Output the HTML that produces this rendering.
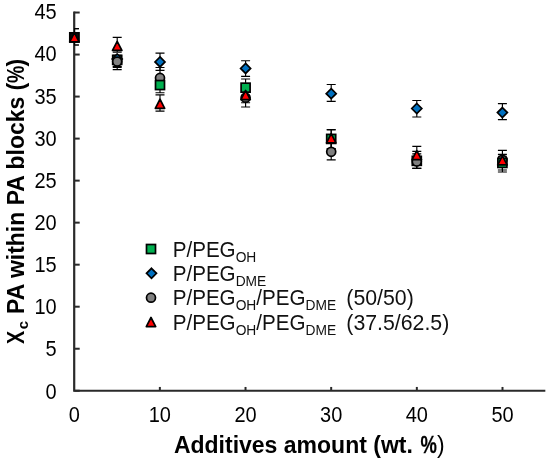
<!DOCTYPE html>
<html><head><meta charset="utf-8"><style>
html,body{margin:0;padding:0;background:#fff;width:550px;height:463px;overflow:hidden}
svg{display:block;filter:blur(0.5px)}
text{font-family:"Liberation Sans",Arial,sans-serif;fill:#000000}
.tk{font-size:20.6px}
.ttl{font-size:23px;font-weight:bold}
.pn{font-weight:normal}
.pc{stroke:#000;stroke-width:0.25px}
.sb{font-size:15px}
.lg{font-size:20.6px;fill:#111}
.lp{font-size:21.3px}
.ls{font-size:13.8px}
</style></head><body>
<svg width="550" height="463" viewBox="0 0 550 463">
<defs><clipPath id="pc"><rect x="74.20" y="0" width="480" height="390.75"/></clipPath></defs>
<path d="M74.20 11.53V391.85M73.10 390.75H545.33" stroke="#2a2a2a" stroke-width="2.2" fill="none"/><path d="M74.20 390.75H79.70" stroke="#2a2a2a" stroke-width="2" /><path d="M74.20 348.73H79.70" stroke="#2a2a2a" stroke-width="2" /><path d="M74.20 306.70H79.70" stroke="#2a2a2a" stroke-width="2" /><path d="M74.20 264.68H79.70" stroke="#2a2a2a" stroke-width="2" /><path d="M74.20 222.65H79.70" stroke="#2a2a2a" stroke-width="2" /><path d="M74.20 180.63H79.70" stroke="#2a2a2a" stroke-width="2" /><path d="M74.20 138.60H79.70" stroke="#2a2a2a" stroke-width="2" /><path d="M74.20 96.58H79.70" stroke="#2a2a2a" stroke-width="2" /><path d="M74.20 54.55H79.70" stroke="#2a2a2a" stroke-width="2" /><path d="M74.20 12.53H79.70" stroke="#2a2a2a" stroke-width="2" /><path d="M159.86 390.75V386.95" stroke="#2a2a2a" stroke-width="2" /><path d="M245.52 390.75V386.95" stroke="#2a2a2a" stroke-width="2" /><path d="M331.18 390.75V386.95" stroke="#2a2a2a" stroke-width="2" /><path d="M416.84 390.75V386.95" stroke="#2a2a2a" stroke-width="2" /><path d="M502.50 390.75V386.95" stroke="#2a2a2a" stroke-width="2" />
<g clip-path="url(#pc)"><path d="M74.40 28.61V44.99M69.90 28.61H78.90M69.90 44.99H78.90" stroke="#000" stroke-width="1.15" fill="none"/><path d="M74.40 28.61V44.99M69.90 28.61H78.90M69.90 44.99H78.90" stroke="#000" stroke-width="1.15" fill="none"/><path d="M117.20 55.66V67.42M112.70 55.66H121.70M112.70 67.42H121.70" stroke="#000" stroke-width="1.15" fill="none"/><path d="M117.20 55.24V66.41M112.70 55.24H121.70M112.70 66.41H121.70" stroke="#000" stroke-width="1.15" fill="none"/><path d="M117.20 55.66V69.60M112.70 55.66H121.70M112.70 69.60H121.70" stroke="#000" stroke-width="1.15" fill="none"/><path d="M117.20 37.43V52.13M112.70 37.43H121.70M112.70 52.13H121.70" stroke="#000" stroke-width="1.15" fill="none"/><path d="M160.00 67.50V86.32M155.50 67.50H164.50M155.50 86.32H164.50" stroke="#000" stroke-width="1.15" fill="none"/><path d="M160.00 77.50V92.70M155.50 77.50H164.50M155.50 92.70H164.50" stroke="#000" stroke-width="1.15" fill="none"/><path d="M160.00 53.14V70.36M155.50 53.14H164.50M155.50 70.36H164.50" stroke="#000" stroke-width="1.15" fill="none"/><path d="M160.00 94.80V111.18M155.50 94.80H164.50M155.50 111.18H164.50" stroke="#000" stroke-width="1.15" fill="none"/><path d="M245.60 89.26V106.98M241.10 89.26H250.10M241.10 106.98H250.10" stroke="#000" stroke-width="1.15" fill="none"/><path d="M245.60 79.01V95.22M241.10 79.01H250.10M241.10 95.22H250.10" stroke="#000" stroke-width="1.15" fill="none"/><path d="M245.60 60.78V76.41M241.10 60.78H250.10M241.10 76.41H250.10" stroke="#000" stroke-width="1.15" fill="none"/><path d="M245.60 87.58V102.70M241.10 87.58H250.10M241.10 102.70H250.10" stroke="#000" stroke-width="1.15" fill="none"/><path d="M331.20 143.44V159.82M326.70 143.44H335.70M326.70 159.82H335.70" stroke="#000" stroke-width="1.15" fill="none"/><path d="M331.20 129.50V148.98M326.70 129.50H335.70M326.70 148.98H335.70" stroke="#000" stroke-width="1.15" fill="none"/><path d="M331.20 84.47V101.44M326.70 84.47H335.70M326.70 101.44H335.70" stroke="#000" stroke-width="1.15" fill="none"/><path d="M331.20 130.00V148.48M326.70 130.00H335.70M326.70 148.48H335.70" stroke="#000" stroke-width="1.15" fill="none"/><path d="M416.80 151.42V168.39M412.30 151.42H421.30M412.30 168.39H421.30" stroke="#000" stroke-width="1.15" fill="none"/><path d="M416.80 153.94V168.39M412.30 153.94H421.30M412.30 168.39H421.30" stroke="#000" stroke-width="1.15" fill="none"/><path d="M416.80 100.52V116.98M412.30 100.52H421.30M412.30 116.98H421.30" stroke="#000" stroke-width="1.15" fill="none"/><path d="M416.80 146.38V162.84M412.30 146.38H421.30M412.30 162.84H421.30" stroke="#000" stroke-width="1.15" fill="none"/><path d="M502.40 150.33V169.98M497.90 150.33H506.90M497.90 169.98H506.90" stroke="#000" stroke-width="1.15" fill="none"/><path d="M502.40 156.21V172.00M497.90 156.21H506.90M497.90 172.00H506.90" stroke="#000" stroke-width="1.15" fill="none"/><path d="M502.40 103.62V119.58M497.90 103.62H506.90M497.90 119.58H506.90" stroke="#000" stroke-width="1.15" fill="none"/><path d="M502.40 154.36V167.21M497.90 154.36H506.90M497.90 167.21H506.90" stroke="#000" stroke-width="1.15" fill="none"/></g>
<rect x="69.80" y="32.83" width="9.20" height="9.20" fill="#0a0a0a" stroke="#000" stroke-width="1.7"/><path d="M74.40 32.73L79.10 41.83L69.70 41.83Z" fill="#FF0000" stroke="#000" stroke-width="1.7" stroke-linejoin="round"/><rect x="112.70" y="55.36" width="9.00" height="9.00" fill="#00B050" stroke="#000" stroke-width="1.7"/><path d="M117.20 54.02L122.20 59.02L117.20 64.02L112.20 59.02Z" fill="#0070C0" stroke="#000" stroke-width="1.7"/><circle cx="117.20" cy="61.54" r="4.5" fill="#808080" stroke="#000" stroke-width="1.7"/><path d="M117.20 41.30L121.90 50.40L112.50 50.40Z" fill="#FF0000" stroke="#000" stroke-width="1.7" stroke-linejoin="round"/><circle cx="160.00" cy="77.92" r="4.5" fill="#808080" stroke="#000" stroke-width="1.7"/><rect x="155.50" y="80.56" width="9.00" height="9.00" fill="#00B050" stroke="#000" stroke-width="1.7"/><path d="M160.00 56.96L165.00 61.96L160.00 66.96L155.00 61.96Z" fill="#0070C0" stroke="#000" stroke-width="1.7"/><path d="M160.00 99.26L164.70 108.36L155.30 108.36Z" fill="#FF0000" stroke="#000" stroke-width="1.7" stroke-linejoin="round"/><circle cx="245.60" cy="97.66" r="4.5" fill="#808080" stroke="#000" stroke-width="1.7"/><rect x="241.10" y="83.16" width="9.00" height="9.00" fill="#00B050" stroke="#000" stroke-width="1.7"/><path d="M245.60 63.43L250.60 68.43L245.60 73.43L240.60 68.43Z" fill="#0070C0" stroke="#000" stroke-width="1.7"/><path d="M245.60 90.44L250.30 99.54L240.90 99.54Z" fill="#FF0000" stroke="#000" stroke-width="1.7" stroke-linejoin="round"/><circle cx="331.20" cy="151.84" r="4.5" fill="#808080" stroke="#000" stroke-width="1.7"/><rect x="326.70" y="134.40" width="9.00" height="9.00" fill="#00B050" stroke="#000" stroke-width="1.7"/><path d="M331.20 88.63L336.20 93.63L331.20 98.63L326.20 93.63Z" fill="#0070C0" stroke="#000" stroke-width="1.7"/><path d="M331.20 133.70L335.90 142.80L326.50 142.80Z" fill="#FF0000" stroke="#000" stroke-width="1.7" stroke-linejoin="round"/><rect x="412.30" y="156.33" width="9.00" height="9.00" fill="#00B050" stroke="#000" stroke-width="1.7"/><circle cx="416.80" cy="161.50" r="4.5" fill="#808080" stroke="#000" stroke-width="1.7"/><path d="M416.80 103.50L421.80 108.50L416.80 113.50L411.80 108.50Z" fill="#0070C0" stroke="#000" stroke-width="1.7"/><path d="M416.80 150.58L421.50 159.68L412.10 159.68Z" fill="#FF0000" stroke="#000" stroke-width="1.7" stroke-linejoin="round"/><circle cx="502.40" cy="159.82" r="4.5" fill="#808080" stroke="#000" stroke-width="1.7"/><rect x="497.90" y="158.43" width="9.00" height="9.00" fill="#00B050" stroke="#000" stroke-width="1.7"/><path d="M502.40 107.53L507.40 112.53L502.40 117.53L497.40 112.53Z" fill="#0070C0" stroke="#000" stroke-width="1.7"/><path d="M502.40 155.79L507.10 164.89L497.70 164.89Z" fill="#FF0000" stroke="#000" stroke-width="1.7" stroke-linejoin="round"/>
<text transform="translate(56.6,398.62) scale(0.97,1.06)" text-anchor="end" class="tk">0</text><text transform="translate(56.6,356.47) scale(0.97,1.06)" text-anchor="end" class="tk">5</text><text transform="translate(56.6,314.33) scale(0.97,1.06)" text-anchor="end" class="tk">10</text><text transform="translate(56.6,272.18) scale(0.97,1.06)" text-anchor="end" class="tk">15</text><text transform="translate(56.6,230.03) scale(0.97,1.06)" text-anchor="end" class="tk">20</text><text transform="translate(56.6,187.88) scale(0.97,1.06)" text-anchor="end" class="tk">25</text><text transform="translate(56.6,145.74) scale(0.97,1.06)" text-anchor="end" class="tk">30</text><text transform="translate(56.6,103.59) scale(0.97,1.06)" text-anchor="end" class="tk">35</text><text transform="translate(56.6,61.44) scale(0.97,1.06)" text-anchor="end" class="tk">40</text><text transform="translate(56.6,19.30) scale(0.97,1.06)" text-anchor="end" class="tk">45</text><text transform="translate(74.20,421.5) scale(0.97,1.06)" text-anchor="middle" class="tk">0</text><text transform="translate(159.86,421.5) scale(0.97,1.06)" text-anchor="middle" class="tk">10</text><text transform="translate(245.52,421.5) scale(0.97,1.06)" text-anchor="middle" class="tk">20</text><text transform="translate(331.18,421.5) scale(0.97,1.06)" text-anchor="middle" class="tk">30</text><text transform="translate(416.84,421.5) scale(0.97,1.06)" text-anchor="middle" class="tk">40</text><text transform="translate(502.50,421.5) scale(0.97,1.06)" text-anchor="middle" class="tk">50</text>
<text x="173.9" y="452.5" class="ttl">Additives amount (wt.</text>
<text transform="translate(420.4,452.9) scale(0.8,1)" class="ttl pc">%</text>
<text x="437.0" y="452.5" class="ttl pn">)</text>
<text transform="translate(23.6,343.9) rotate(-90) scale(0.86,1)" class="ttl">X</text>
<text transform="translate(27.8,329.2) rotate(-90)" class="ttl sb">c</text>
<text transform="translate(23.6,313.9) rotate(-90)" class="ttl">PA within PA blocks</text>
<text transform="translate(23.6,90.4) rotate(-90)" class="ttl">(</text>
<text transform="translate(23.6,83.0) rotate(-90) scale(0.85,1)" class="ttl">%</text>
<text transform="translate(23.6,66.6) rotate(-90)" class="ttl">)</text>
<rect x="146.50" y="244.50" width="9.00" height="9.00" fill="#00B050" stroke="#000" stroke-width="1.7"/><path d="M151.50 268.30L156.50 273.30L151.50 278.30L146.50 273.30Z" fill="#0070C0" stroke="#000" stroke-width="1.7"/><circle cx="151.00" cy="297.70" r="4.5" fill="#808080" stroke="#000" stroke-width="1.7"/><path d="M151.00 317.50L155.70 326.60L146.30 326.60Z" fill="#FF0000" stroke="#000" stroke-width="1.7" stroke-linejoin="round"/><text transform="translate(172.7,256.70) scale(1,1.11)" class="lg">P/PEG<tspan class="ls" dy="4.5">OH</tspan></text><text transform="translate(172.7,281.00) scale(1,1.11)" class="lg">P/PEG<tspan class="ls" dy="4.5">DME</tspan></text><text transform="translate(172.7,305.40) scale(1,1.11)" class="lg">P/PEG<tspan class="ls" dy="4.5">OH</tspan><tspan dy="-4.5">/PEG</tspan><tspan class="ls" dy="4.5">DME</tspan></text><text transform="translate(172.7,329.90) scale(1,1.11)" class="lg">P/PEG<tspan class="ls" dy="4.5">OH</tspan><tspan dy="-4.5">/PEG</tspan><tspan class="ls" dy="4.5">DME</tspan></text><text x="346.3" y="305.00" class="lg lp">(50/50)</text><text x="346.3" y="329.50" class="lg lp">(37.5/62.5)</text>
</svg>
</body></html>
